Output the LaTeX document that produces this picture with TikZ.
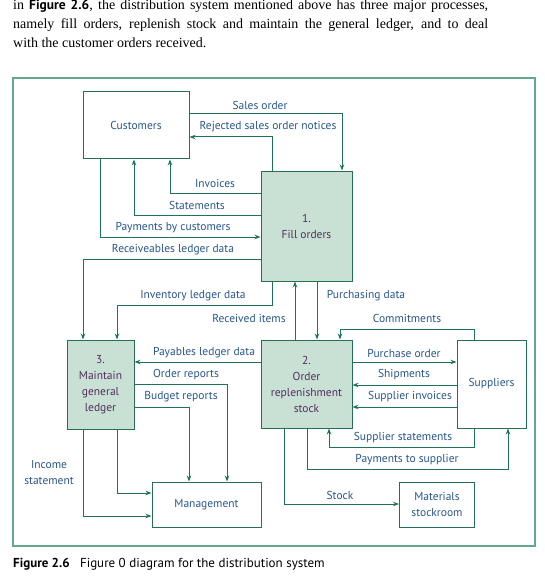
\documentclass[tikz,border=0pt]{standalone}
\usepackage{fontspec}
\setmainfont{PT Sans}
\newfontfamily\parafont{Liberation Serif}
\usetikzlibrary{arrows.meta}
\definecolor{framec}{RGB}{100,168,140}
\definecolor{linec}{RGB}{30,115,85}
\definecolor{boxc}{RGB}{40,110,80}
\definecolor{labc}{RGB}{40,85,140}
\definecolor{procf}{RGB}{200,225,212}
\definecolor{proct}{RGB}{85,45,95}
\begin{document}
\begin{tikzpicture}[x=1pt,y=-1pt,
		box/.style={draw=boxc,line width=1pt,inner sep=0pt,align=center,text=labc,font=\fontsize{11.5}{16}\selectfont},
		proc/.style={box,fill=procf,text=proct},
		lab/.style={inner sep=0pt,text=labc,font=\fontsize{11.5}{14}\selectfont},
		flow/.style={draw=linec,line width=1pt,-{Stealth[length=6pt,width=4.5pt]}}]
			\useasboundingbox (0,0) rectangle (545,580);

			\node[anchor=base west,inner sep=0pt,font=\parafont\fontsize{14}{19}\selectfont] (para1) at (13,10)
				{\makebox[475pt][s]{in \textbf{\rmfamily\fontsize{13.5}{19}\selectfont Figure 2.6}, the distribution system mentioned above has three major processes,}};
			\node[anchor=base west,inner sep=0pt,font=\parafont\fontsize{14}{19}\selectfont] (para2) at (13,29)
				{\makebox[475pt][s]{namely fill orders, replenish stock and maintain the general ledger, and to deal}};
			\node[anchor=base west,inner sep=0pt,font=\parafont\fontsize{14}{19}\selectfont] (para3) at (13,48)
				{with the customer orders received.};

			\draw[framec,line width=1.2pt] (13,78) rectangle (535,546);

			\node[box ,minimum width=106pt,minimum height=67pt ] (cust)      at (136  ,125.5) {Customers};
			\node[proc,minimum width=91pt ,minimum height=110pt] (fill)      at (306.5,226  ) {1.\\Fill orders};
			\node[proc,minimum width=91pt ,minimum height=88pt ] (order)     at (306.5,384  ) {2.\\Order\\replenishment\\stock};
			\node[box ,minimum width=69pt ,minimum height=88pt ] (supp)      at (491.5,384  ) {Suppliers};
			\node[proc,minimum width=67pt ,minimum height=89pt ] (ledger)    at (100.5,384.5) {3.\\Maintain\\general\\ledger};
			\node[box ,minimum width=109pt,minimum height=45pt ] (mgmt)      at (206.5,504.5) {Management};
			\node[box ,minimum width=75pt ,minimum height=45pt ] (stockroom) at (437  ,504.5) {Materials\\stockroom};

			\draw[flow] (cust.east |- 0,114) -| (342,0 |- fill.north);
			\draw[flow] (fill.north -| 272,0) |- (cust.east |- 0,137);
			\draw[flow] (fill.west |- 0,193) -| (cust.south -| 170,0);
			\draw[flow] (fill.west |- 0,215) -| (cust.south -| 134,0);
			\draw[flow] (cust.south -| 100,0) |- (fill.west |- 0,237);
			\draw[flow] (fill.west |- 0,259) -| (ledger.north -| 83,0);
			\draw[flow] (fill.south -| 272,0) -- (272,305) -- (117,305) -- (ledger.north -| 117,0);
			\draw[flow] (order.north -| 295,0) -- (fill.south -| 295,0);
			\draw[flow] (fill.south -| 317,0) -- (order.north -| 317,0);
			\draw[flow] (supp.north -| 474,0) |- (340,329) -- (order.north -| 340,0);
			\draw[flow] (order.east |- 0,362) -- (supp.west |- 0,362);
			\draw[flow] (supp.west |- 0,385) -- (order.east |- 0,385);
			\draw[flow] (supp.west |- 0,407) -- (order.east |- 0,407);
			\draw[flow] (supp.south -| 474,0) |- (329,447) -- (order.south -| 329,0);
			\draw[flow] (order.south -| 307,0) |- (508,469) -- (supp.south -| 508,0);
			\draw[flow] (order.south -| 284,0) |- (stockroom.west |- 0,504);
			\draw[flow] (order.west |- 0,362) -- (ledger.east |- 0,362);
			\draw[flow] (ledger.east |- 0,384) -| (mgmt.north -| 227,0);
			\draw[flow] (ledger.east |- 0,407) -| (mgmt.north -| 189,0);
			\draw[flow] (ledger.south -| 117,0) |- (mgmt.west |- 0,493);
			\draw[flow] (ledger.south -| 83,0) |- (mgmt.west |- 0,516);

			\node[lab] (l-sales)    at (260,105) {Sales order};
			\node[lab] (l-reject)   at (268,127) {Rejected sales order notices};
			\node[lab] (l-invoice)  at (215,183) {Invoices};
			\node[lab] (l-statem)   at (197,205) {Statements};
			\node[lab] (l-pay)      at (173,228) {Payments by customers};
			\node[lab] (l-recv)     at (173,250) {Receiveables ledger data};
			\node[lab] (l-invent)   at (193,296) {Inventory ledger data};
			\node[lab] (l-received) at (249,318) {Received items};
			\node[lab] (l-purch)    at (366,296) {Purchasing data};
			\node[lab] (l-commit)   at (407,318) {Commitments};
			\node[lab] (l-porder)   at (404,353) {Purchase order};
			\node[lab] (l-ship)     at (404,375) {Shipments};
			\node[lab] (l-sinv)     at (410,397) {Supplier invoices};
			\node[lab] (l-sstat)    at (403,438) {Supplier statements};
			\node[lab] (l-paysup)   at (407,460) {Payments to supplier};
			\node[lab] (l-stock)    at (340,495) {Stock};
			\node[lab] (l-payable)  at (204,353) {Payables ledger data};
			\node[lab] (l-oreport)  at (186,375) {Order reports};
			\node[lab] (l-breport)  at (181,397) {Budget reports};
			\node[lab,align=center,font=\fontsize{11.5}{16}\selectfont] (l-income) at (49,473) {Income\\statement};

			\node[anchor=base west,inner sep=0pt,font=\fontsize{13}{15}\selectfont] (caption) at (13,567)
				{\textbf{Figure 2.6}\hspace{0.8em}Figure 0 diagram for the distribution system};
		\end{tikzpicture}
\end{document}
